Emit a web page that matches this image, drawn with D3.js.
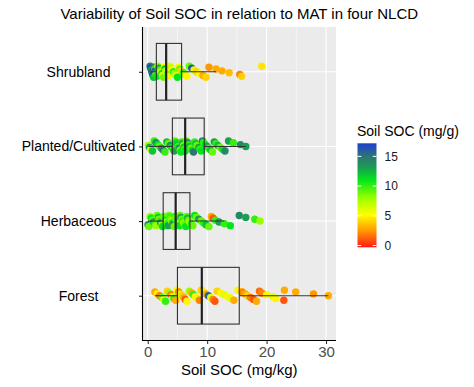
<!DOCTYPE html>
<html lang="en">
<head>
<meta charset="UTF-8">
<title>Soil SOC by NLCD</title>
<script src="https://cdn.jsdelivr.net/npm/d3@7"></script>
<style>
    body { margin: 0; background: #fff; }
    svg { display: block; font-family: "Liberation Sans", Arial, sans-serif; }
</style>
</head>
<body>
<div id="chart"></div>
<script>
    // categories, top to bottom
    const categories = ["Shrubland", "Planted/Cultivated", "Herbaceous", "Forest"]

    // box stats (mg/kg)
    const boxLow    = [0.4, 0.1, 0.05, 1.2]
    const boxQ1     = [1.45, 4.15, 2.6, 5.0]
    const boxMedian = [3.1, 6.3, 4.7, 9.1]
    const boxQ3     = [5.7, 9.5, 7.1, 15.4]
    const boxHigh   = [11.5, 16.5, 12.9, 30.4]

    // points: [soil SOC mg/kg, soil SOC mg/g (colour)]
    const shrubland = [
        [0.4, 15], [0.5, 17], [0.6, 13], [0.7, 16], [0.8, 14], [0.9, 17], [1.0, 12], [1.1, 15],
        [1.2, 10], [1.25, 16], [1.35, 14], [1.4, 9], [1.5, 11], [1.7, 8], [1.9, 13], [2.0, 10],
        [2.2, 7], [2.4, 11], [2.5, 6], [2.7, 9], [2.8, 5], [2.9, 12], [3.0, 8], [3.1, 6],
        [3.3, 9], [3.5, 5], [3.7, 6], [3.9, 7], [4.1, 5], [4.3, 10], [4.5, 8], [4.8, 6],
        [5.0, 11], [5.2, 5], [5.4, 9], [5.6, 4], [6.0, 10], [6.3, 7], [6.6, 5], [7.0, 9],
        [7.4, 16], [7.8, 6], [8.2, 4], [8.7, 5], [9.3, 3], [9.8, 4], [10.3, 2.5], [11.5, 3],
        [12.5, 3], [13.7, 3.5], [15.5, 2], [15.8, 4], [19.2, 4.5]
    ]
    const planted = [
        [0.1, 8], [0.3, 13], [0.5, 7], [0.8, 12], [1.1, 10], [1.4, 14], [1.7, 11], [2.0, 9],
        [2.3, 13], [2.6, 15], [2.9, 10], [3.2, 12], [3.5, 9], [3.8, 14], [4.0, 11],
        [4.3, 10], [4.45, 13], [4.6, 9], [4.8, 11], [4.95, 12], [5.1, 10], [5.3, 14], [5.45, 9],
        [5.6, 11], [5.75, 10], [5.9, 13], [6.0, 9], [6.1, 12], [6.2, 10], [6.3, 11],
        [6.5, 9], [6.7, 14], [6.9, 10], [7.1, 12], [7.3, 9], [7.5, 11], [7.7, 15], [7.9, 10],
        [8.1, 12], [8.3, 9], [8.6, 13], [8.8, 10], [9.0, 11], [9.2, 14], [9.4, 10],
        [9.7, 11], [10.0, 13], [10.3, 10], [10.6, 12], [10.9, 9], [11.2, 13], [11.5, 10],
        [11.8, 12], [12.2, 9], [12.6, 11], [13.0, 14], [13.6, 13], [14.4, 10], [15.6, 14], [16.5, 13]
    ]
    const herbaceous = [
        [0.05, 14], [0.2, 9], [0.4, 8], [0.6, 11], [0.8, 9], [1.0, 13], [1.2, 10], [1.4, 8],
        [1.6, 9], [1.8, 12], [1.9, 9], [2.1, 10], [2.2, 14], [2.4, 8], [2.5, 11],
        [2.7, 9], [2.85, 9], [3.0, 11], [3.15, 8], [3.3, 10], [3.45, 13], [3.6, 9], [3.75, 10],
        [3.9, 9], [4.0, 8], [4.15, 11], [4.3, 14], [4.45, 9], [4.6, 10], [4.7, 9],
        [4.85, 9], [5.0, 10], [5.15, 8], [5.3, 11], [5.45, 9], [5.6, 13], [5.75, 9], [5.9, 10],
        [6.05, 8], [6.2, 9], [6.4, 11], [6.55, 9], [6.7, 12], [6.9, 9], [7.05, 8],
        [7.3, 10], [7.6, 9], [7.9, 11], [8.2, 9], [8.6, 13], [9.0, 9], [9.4, 10], [9.8, 12],
        [10.3, 9], [10.7, 3], [11.0, 1], [11.4, 10], [12.0, 13], [12.9, 10],
        [13.9, 11], [15.4, 14], [16.5, 13], [18.0, 10], [18.9, 8]
    ]
    const forest = [
        [1.2, 3], [1.6, 5], [2.0, 2], [2.4, 9], [2.7, 6], [3.0, 10], [3.3, 4], [3.6, 8],
        [3.9, 2], [4.2, 6], [4.4, 10], [4.7, 3], [4.9, 5],
        [5.2, 2], [5.5, 7], [5.8, 4], [6.1, 3], [6.3, 1], [6.6, 5], [7.0, 8], [7.4, 3],
        [7.7, 10], [8.0, 5], [8.4, 6], [8.7, 2], [9.0, 4],
        [9.4, 5], [9.8, 3], [10.2, 16], [10.6, 6], [11.0, 2], [11.3, 1], [11.7, 4], [12.3, 5],
        [12.9, 6], [13.5, 5], [14.0, 6], [14.5, 3], [15.2, 5],
        [15.9, 2], [16.4, 3], [16.8, 4], [17.3, 2], [17.8, 1], [18.3, 3], [18.8, 1.5], [19.2, 2],
        [20.0, 5], [21.1, 6], [21.5, 5], [22.9, 1], [23.0, 3], [24.9, 3], [27.9, 2.5], [30.4, 3]
    ]
    const pointSets = [shrubland, planted, herbaceous, forest]

    const xTicks = [0, 10, 20, 30]
    const xMinor = [5, 15, 25]
    const legendTicks = [0, 5, 10, 15]
    const colourLimits = [-0.3, 17.2]
    // colour stops
    const colourStopValues = [-0.3, 2.5, 5.2, 8, 11, 13, 15, 17.2]
    const colourStops = ["#ff1a1a", "#ff9900", "#ffff00", "#99ff00", "#00e81a", "#1aa050", "#2e7478", "#1e3fd0"]

    const width = 474
    const height = 387
    const panel = {left: 142.5, right: 336, top: 27, bottom: 340.5}

    const svg = d3.select("#chart").append("svg")
        .attr("width", width)
        .attr("height", height)

    const x = d3.scaleLinear().domain([-0.88, 31.68]).range([panel.left, panel.right])
    const y = d3.scalePoint().domain(categories).range([panel.top, panel.bottom]).padding(0.6)
    const step = y.step()

    const colour = d3.scaleLinear()
        .domain(colourStopValues)
        .range(colourStops)
        .interpolate(d3.interpolateRgb)
        .clamp(true)

    // panel background + grid
    svg.append("rect")
        .attr("x", panel.left).attr("y", panel.top)
        .attr("width", panel.right - panel.left).attr("height", panel.bottom - panel.top)
        .attr("fill", "#ebebeb")

    svg.append("g").selectAll("line")
        .data(xMinor).enter().append("line")
        .attr("x1", d => x(d)).attr("x2", d => x(d))
        .attr("y1", panel.top).attr("y2", panel.bottom)
        .attr("stroke", "#fff").attr("stroke-width", 0.55)

    svg.append("g").selectAll("line")
        .data(xTicks).enter().append("line")
        .attr("x1", d => x(d)).attr("x2", d => x(d))
        .attr("y1", panel.top).attr("y2", panel.bottom)
        .attr("stroke", "#fff").attr("stroke-width", 1.1)

    svg.append("g").selectAll("line")
        .data(categories).enter().append("line")
        .attr("x1", panel.left).attr("x2", panel.right)
        .attr("y1", d => y(d)).attr("y2", d => y(d))
        .attr("stroke", "#fff").attr("stroke-width", 1.1)

    // jittered points (deterministic jitter)
    const jitterPx = 11
    pointSets.forEach((pts, ci) => {
        svg.append("g").selectAll("circle")
            .data(pts).enter().append("circle")
            .attr("cx", d => x(d[0]))
            .attr("cy", (d, i) => y(categories[ci]) + (((i * 7919 + ci * 31) % 13) / 12 - 0.5) * jitterPx)
            .attr("r", 3.7)
            .attr("fill", d => colour(d[1]))
    })

    // boxplots on top, no fill
    const boxH = step * 0.76
    const boxes = svg.append("g").selectAll("g")
        .data(categories).enter().append("g")

    boxes.append("line")
        .attr("x1", (d, i) => x(boxLow[i])).attr("x2", (d, i) => x(boxQ1[i]))
        .attr("y1", d => y(d)).attr("y2", d => y(d))
        .attr("stroke", "#333").attr("stroke-width", 1.1)
    boxes.append("line")
        .attr("x1", (d, i) => x(boxQ3[i])).attr("x2", (d, i) => x(boxHigh[i]))
        .attr("y1", d => y(d)).attr("y2", d => y(d))
        .attr("stroke", "#333").attr("stroke-width", 1.1)
    boxes.append("rect")
        .attr("x", (d, i) => x(boxQ1[i]))
        .attr("width", (d, i) => x(boxQ3[i]) - x(boxQ1[i]))
        .attr("y", d => y(d) - boxH / 2)
        .attr("height", boxH)
        .attr("fill", "none").attr("stroke", "#333").attr("stroke-width", 1.1)
    boxes.append("line")
        .attr("x1", (d, i) => x(boxMedian[i])).attr("x2", (d, i) => x(boxMedian[i]))
        .attr("y1", d => y(d) - boxH / 2).attr("y2", d => y(d) + boxH / 2)
        .attr("stroke", "#222").attr("stroke-width", 2.2)

    // axes
    const xAxis = svg.append("g")
        .attr("transform", `translate(0, ${panel.bottom})`)
        .call(d3.axisBottom(x).tickValues(xTicks).tickSize(3.5).tickPadding(2))
    xAxis.select(".domain").remove()
    xAxis.selectAll(".tick line").attr("stroke", "#333").attr("stroke-width", 1.1)
    xAxis.selectAll(".tick text").attr("fill", "#4d4d4d")
        .style("font-size", "15px").style("font-family", "Liberation Sans, Arial, sans-serif")

    const yAxis = svg.append("g")
        .attr("transform", `translate(${panel.left}, 0)`)
        .call(d3.axisLeft(y).tickSize(3.5).tickPadding(3))
    yAxis.select(".domain").remove()
    yAxis.selectAll(".tick line").attr("stroke", "#333").attr("stroke-width", 1.1)
    yAxis.selectAll(".tick text")
        .attr("x", 78.5 - panel.left)
        .attr("text-anchor", "middle")
        .attr("fill", "#000")
        .style("font-size", "14px").style("font-family", "Liberation Sans, Arial, sans-serif")

    // axis lines
    svg.append("line")
        .attr("x1", panel.left).attr("x2", panel.left)
        .attr("y1", panel.top).attr("y2", panel.bottom + 0.5)
        .attr("stroke", "#000").attr("stroke-width", 1.1)
    svg.append("line")
        .attr("x1", panel.left).attr("x2", panel.right)
        .attr("y1", panel.bottom).attr("y2", panel.bottom)
        .attr("stroke", "#000").attr("stroke-width", 1.1)

    // titles
    svg.append("text")
        .attr("x", (panel.left + panel.right) / 2).attr("y", 18.5)
        .attr("text-anchor", "middle")
        .style("font-size", "15px")
        .text("Variability of Soil SOC in relation to MAT in four NLCD")

    svg.append("text")
        .attr("x", (panel.left + panel.right) / 2).attr("y", 375)
        .attr("text-anchor", "middle")
        .style("font-size", "15px")
        .text("Soil SOC (mg/kg)")

    // colour bar legend
    const legX = 357.5
    const legW = 19
    const legScale = d3.scaleLinear().domain(colourLimits).range([247.3, 143.3])

    const defs = svg.append("defs")
    const grad = defs.append("linearGradient")
        .attr("id", "socGrad")
        .attr("x1", "0").attr("x2", "0").attr("y1", "1").attr("y2", "0")
    colourStopValues.forEach((v, i) => {
        grad.append("stop")
            .attr("offset", (v - colourLimits[0]) / (colourLimits[1] - colourLimits[0]))
            .attr("stop-color", colourStops[i])
    })

    svg.append("text")
        .attr("x", legX - 0.5).attr("y", 136)
        .style("font-size", "14px")
        .text("Soil SOC (mg/g)")

    svg.append("rect")
        .attr("x", legX).attr("y", legScale(colourLimits[1]))
        .attr("width", legW)
        .attr("height", legScale(colourLimits[0]) - legScale(colourLimits[1]))
        .attr("fill", "url(#socGrad)")

    const legTicks = svg.append("g").selectAll("g")
        .data(legendTicks).enter().append("g")
    legTicks.append("line")
        .attr("x1", legX).attr("x2", legX + 3.8)
        .attr("y1", d => legScale(d)).attr("y2", d => legScale(d))
        .attr("stroke", "#fff").attr("stroke-width", 1)
    legTicks.append("line")
        .attr("x1", legX + legW - 3.8).attr("x2", legX + legW)
        .attr("y1", d => legScale(d)).attr("y2", d => legScale(d))
        .attr("stroke", "#fff").attr("stroke-width", 1)
    legTicks.append("text")
        .attr("x", legX + legW + 8)
        .attr("y", d => legScale(d))
        .attr("dy", "0.36em")
        .attr("fill", "#1a1a1a")
        .style("font-size", "12px")
        .text(d => d)
</script>
</body>
</html>
